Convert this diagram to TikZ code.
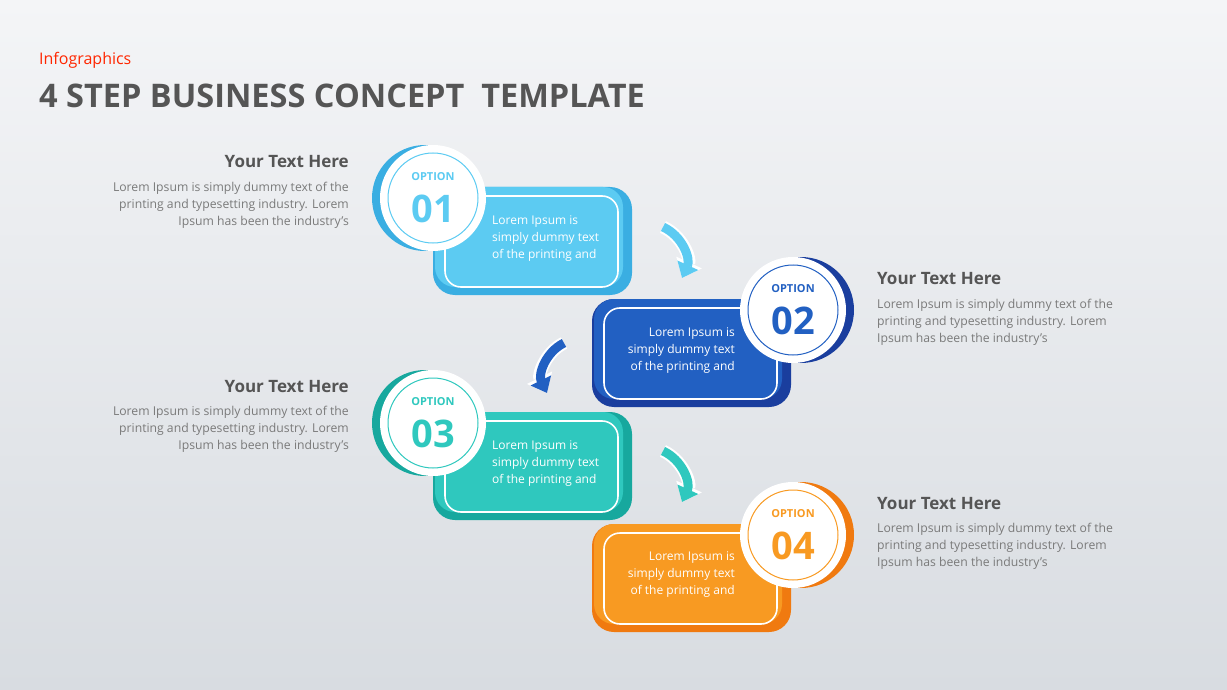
\documentclass[tikz,border=0pt]{standalone}
\usepackage{fontspec}
\setmainfont{Open Sans}
\usetikzlibrary{arrows.meta}
\definecolor{bgA}{HTML}{F4F5F7}
\definecolor{bgB}{HTML}{D8DCE1}
\definecolor{cA}{HTML}{5CCBF2}\definecolor{dA}{HTML}{3AAEE2}
\definecolor{cB}{HTML}{2260C2}\definecolor{dB}{HTML}{1A3E9E}
\definecolor{cC}{HTML}{2FC8BE}\definecolor{dC}{HTML}{17A89E}
\definecolor{cD}{HTML}{F89A22}\definecolor{dD}{HTML}{F07A10}
\definecolor{tgray}{HTML}{555555}
\definecolor{lgray}{HTML}{7A7A7A}
\begin{document}
\begin{tikzpicture}[x=1pt,y=-1pt,
  ttl/.style={font=\fontsize{17}{20}\selectfont\bfseries,text=tgray,inner sep=0},
  bodyL/.style={font=\fontsize{12.2}{17}\selectfont,text=lgray,align=right,anchor=north east,inner sep=0},
  bodyR/.style={font=\fontsize{12.2}{17}\selectfont,text=lgray,align=left,anchor=north west,inner sep=0},
  boxtxt/.style={font=\fontsize{12}{17}\selectfont,text=white,inner sep=0},
  opt/.style={font=\fontsize{11}{12}\selectfont\bfseries,inner sep=0},
  num/.style={font=\fontsize{38}{40}\selectfont\bfseries,inner sep=0},
  arr/.style={line width=9pt,-{Triangle[length=14pt,width=22pt]}}]
\shade[top color=bgA,bottom color=bgB] (0,0) rectangle (1227,690);
\useasboundingbox (0,0) rectangle (1227,690);
\node[anchor=west,inner sep=0,text=red!70!orange,font=\fontsize{16}{18}\selectfont] (sup) at (39,60) {Infographics};
\node[anchor=west,inner sep=0,text=tgray,font=\fontsize{32.5}{34}\selectfont\bfseries] (title) at (39,96) {4 STEP BUSINESS CONCEPT\ \ TEMPLATE};
\newcommand{\stepitem}[7]{%
 \fill[#4,rounded corners=22] (#1,#2) rectangle ++(199,108);
 \fill[#3,rounded corners=20] (#1+2,#2) rectangle ++(188,100);
 \draw[white,line width=1.6pt,rounded corners=16] (#1+12,#2+9) rectangle ++(173,91);
 \fill[#4] (#5+#6,#2+11) circle (53);
 \fill[white] (#5,#2+11) circle (53);
 \draw[#3,line width=1pt] (#5,#2+11) circle (45);
 \node[opt,text=#3] (o#7) at (#5,#2-10) {OPTION};
 \node[num,text=#3] (n#7) at (#5,#2+22) {#7};
}
\stepitem{433}{187}{cA}{dA}{433}{-8}{01}
\node[boxtxt,align=left,anchor=west] (t1) at (492,239) {Lorem Ipsum is\\simply dummy text\\of the printing and};
\stepitem{592}{299}{cB}{dB}{793}{8}{02}
\node[boxtxt,align=right,anchor=east] (t2) at (735,351) {Lorem Ipsum is\\simply dummy text\\of the printing and};
\stepitem{433}{412}{cC}{dC}{433}{-8}{03}
\node[boxtxt,align=left,anchor=west] (t3) at (492,464) {Lorem Ipsum is\\simply dummy text\\of the printing and};
\stepitem{592}{524}{cD}{dD}{793}{8}{04}
\node[boxtxt,align=right,anchor=east] (t4) at (735,575) {Lorem Ipsum is\\simply dummy text\\of the printing and};
\coordinate (a1s) at (663,227); \coordinate (a1e) at (682,278);
\coordinate (a2s) at (564,343); \coordinate (a2e) at (547,393);
\coordinate (a3s) at (663,451); \coordinate (a3e) at (682,502);
\foreach \s/\e/\c/\b in {a1s/a1e/cA/45,a2s/a2e/cB/-45,a3s/a3e/cC/45}{
 \draw[arr,white,line width=13pt,-{Triangle[length=17pt,width=27pt]}] (\s) to[bend left=\b] (\e);
 \draw[arr,\c] (\s) to[bend left=\b] (\e);
}
\node[ttl,anchor=east] (h1) at (349,162) {Your Text Here};
\node[bodyL] (b1) at (349,182) {Lorem Ipsum is simply dummy text of the\\printing and typesetting industry. Lorem\\Ipsum has been the industry's};
\node[ttl,anchor=west] (h2) at (877,279) {Your Text Here};
\node[bodyR] (b2) at (877,299) {Lorem Ipsum is simply dummy text of the\\printing and typesetting industry. Lorem\\Ipsum has been the industry's};
\node[ttl,anchor=east] (h3) at (349,387) {Your Text Here};
\node[bodyL] (b3) at (349,406) {Lorem Ipsum is simply dummy text of the\\printing and typesetting industry. Lorem\\Ipsum has been the industry's};
\node[ttl,anchor=west] (h4) at (877,504) {Your Text Here};
\node[bodyR] (b4) at (877,523) {Lorem Ipsum is simply dummy text of the\\printing and typesetting industry. Lorem\\Ipsum has been the industry's};
\end{tikzpicture}
\end{document}
